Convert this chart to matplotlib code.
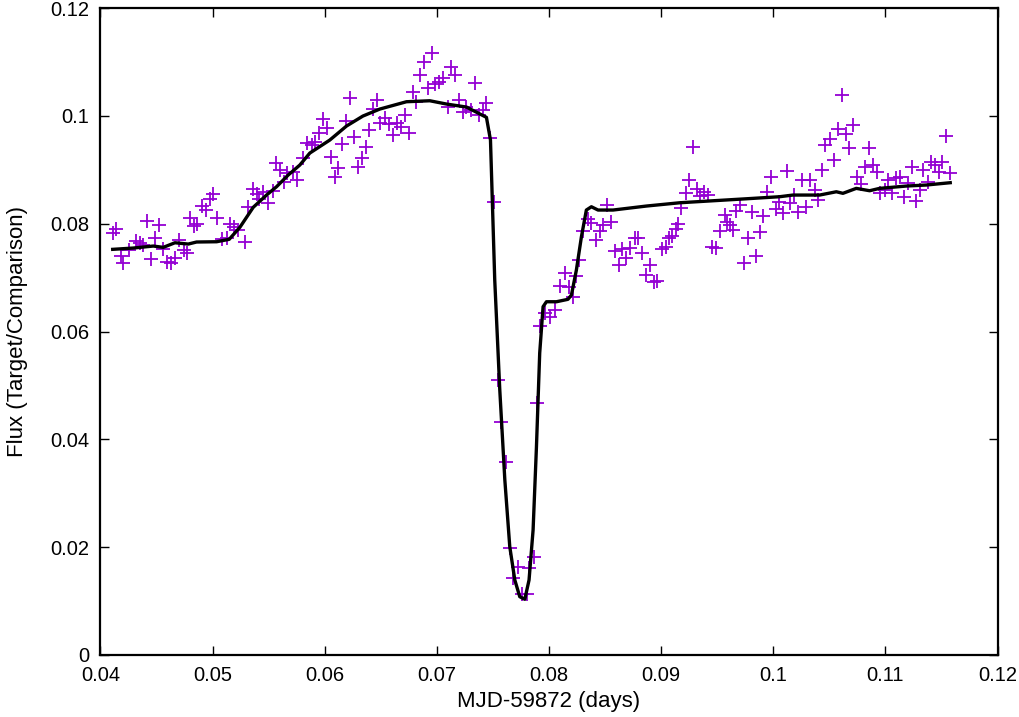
import matplotlib
matplotlib.use("Agg")
import matplotlib.pyplot as plt
from matplotlib.ticker import FuncFormatter, MultipleLocator

plt.rcParams["font.family"] = ["Liberation Sans", "DejaVu Sans"]

mjd = [
    0.04111, 0.04138, 0.04180, 0.04203, 0.04257, 0.04316, 0.04352, 0.04376,
    0.04417, 0.04447, 0.04486, 0.04521, 0.04554, 0.04590, 0.04626, 0.04661,
    0.04697, 0.04744, 0.04768, 0.04798, 0.04833, 0.04863, 0.04905, 0.04940,
    0.04976, 0.05005, 0.05041, 0.05083, 0.05125, 0.05154, 0.05190, 0.05228,
    0.05285, 0.05317, 0.05357, 0.05392, 0.05415, 0.05451, 0.05496, 0.05540,
    0.05564, 0.05600, 0.05636, 0.05665, 0.05713, 0.05754, 0.05802, 0.05838,
    0.05882, 0.05912, 0.05950, 0.05981, 0.06016, 0.06052, 0.06090, 0.06120,
    0.06153, 0.06194, 0.06224, 0.06259, 0.06298, 0.06328, 0.06366, 0.06396,
    0.06432, 0.06467, 0.06497, 0.06536, 0.06574, 0.06610, 0.06645, 0.06676,
    0.06714, 0.06752, 0.06783, 0.06812, 0.06848, 0.06883, 0.06925, 0.06955,
    0.06984, 0.07020, 0.07055, 0.07100, 0.07130, 0.07160, 0.07198, 0.07234,
    0.07264, 0.07300, 0.07338, 0.07376, 0.07412, 0.07442, 0.07478, 0.07512,
    0.07546, 0.07576, 0.07614, 0.07650, 0.07679, 0.07724, 0.07763, 0.07804,
    0.07822, 0.07864, 0.07893, 0.07924, 0.07962, 0.08006, 0.08051, 0.08096,
    0.08140, 0.08178, 0.08214, 0.08244, 0.08268, 0.08303, 0.08348, 0.08378,
    0.08416, 0.08452, 0.08482, 0.08517, 0.08556, 0.08588, 0.08624, 0.08654,
    0.08690, 0.08726, 0.08764, 0.08793, 0.08833, 0.08862, 0.08898, 0.08933,
    0.08963, 0.09011, 0.09040, 0.09070, 0.09100, 0.09129, 0.09150, 0.09180,
    0.09219, 0.09248, 0.09284, 0.09319, 0.09343, 0.09379, 0.09417, 0.09457,
    0.09486, 0.09522, 0.09566, 0.09587, 0.09617, 0.09640, 0.09664, 0.09700,
    0.09736, 0.09774, 0.09813, 0.09843, 0.09878, 0.09908, 0.09943, 0.09982,
    0.10021, 0.10050, 0.10086, 0.10122, 0.10152, 0.10181, 0.10220, 0.10259,
    0.10294, 0.10330, 0.10368, 0.10398, 0.10431, 0.10464, 0.10502, 0.10538,
    0.10576, 0.10609, 0.10645, 0.10674, 0.10710, 0.10745, 0.10785, 0.10814,
    0.10850, 0.10888, 0.10924, 0.10954, 0.10992, 0.11022, 0.11061, 0.11097,
    0.11132, 0.11162, 0.11200, 0.11233, 0.11269, 0.11304, 0.11334, 0.11378,
    0.11409, 0.11438, 0.11474, 0.11507, 0.11542, 0.11578,
]
flux = [
    0.07826, 0.07901, 0.07400, 0.07276, 0.07511, 0.07684, 0.07646, 0.07609,
    0.08054, 0.07339, 0.07728, 0.07975, 0.07524, 0.07294, 0.07264, 0.07357,
    0.07697, 0.07511, 0.07450, 0.08099, 0.07956, 0.07993, 0.08327, 0.08253,
    0.08451, 0.08550, 0.08099, 0.07710, 0.07728, 0.07993, 0.07943, 0.07882,
    0.07665, 0.08314, 0.08637, 0.08550, 0.08451, 0.08592, 0.08377, 0.08611,
    0.09130, 0.08995, 0.08778, 0.08934, 0.08963, 0.08809, 0.09212, 0.09490,
    0.09458, 0.09520, 0.09675, 0.09935, 0.09768, 0.09242, 0.08871, 0.09026,
    0.09471, 0.09909, 0.10325, 0.09612, 0.09045, 0.09212, 0.09427, 0.09737,
    0.10120, 0.10293, 0.09872, 0.09954, 0.09848, 0.09644, 0.09872, 0.09798,
    0.10015, 0.09687, 0.10447, 0.10262, 0.10757, 0.11003, 0.10510, 0.11159,
    0.10590, 0.10632, 0.10696, 0.10158, 0.10911, 0.10757, 0.10293, 0.10076,
    0.10169, 0.10108, 0.10603, 0.10015, 0.10108, 0.10232, 0.09583, 0.08407,
    0.05100, 0.04316, 0.03585, 0.01979, 0.01422, 0.01638, 0.01126, 0.01126,
    0.01608, 0.01812, 0.04668, 0.06102, 0.06337, 0.06274, 0.06398, 0.06844,
    0.07079, 0.06831, 0.06645, 0.07029, 0.07326, 0.07869, 0.08081, 0.08006,
    0.07706, 0.07873, 0.07969, 0.08346, 0.08030, 0.07493, 0.07233, 0.07524,
    0.07357, 0.07543, 0.07728, 0.07728, 0.07450, 0.07048, 0.07233, 0.06923,
    0.06942, 0.07524, 0.07561, 0.07728, 0.07771, 0.07895, 0.07993, 0.08284,
    0.08563, 0.08809, 0.09416, 0.08637, 0.08513, 0.08592, 0.08531, 0.07572,
    0.07543, 0.07869, 0.08160, 0.08036, 0.07975, 0.07882, 0.08240, 0.08346,
    0.07264, 0.07728, 0.08221, 0.07400, 0.07850, 0.08142, 0.08592, 0.08871,
    0.08266, 0.08407, 0.08192, 0.08982, 0.08388, 0.08531, 0.08221, 0.08809,
    0.08314, 0.08809, 0.08624, 0.08438, 0.08995, 0.09458, 0.09564, 0.09180,
    0.09750, 0.10386, 0.09662, 0.09397, 0.09829, 0.08871, 0.08735, 0.09045,
    0.09397, 0.09088, 0.08963, 0.08563, 0.08624, 0.08809, 0.08563, 0.08841,
    0.08871, 0.08500, 0.08748, 0.09045, 0.08426, 0.08624, 0.08995, 0.08778,
    0.09149, 0.09088, 0.08963, 0.09149, 0.09625, 0.08945,
]

# model light curve
model_mjd = [
    0.04109, 0.04292, 0.04471, 0.04560, 0.04664, 0.04783, 0.04857, 0.05036,
    0.05148, 0.05243, 0.05362, 0.05481, 0.05570, 0.05674, 0.05778, 0.05867,
    0.06045, 0.06194, 0.06340, 0.06491, 0.06729, 0.06937, 0.07086, 0.07264,
    0.07442, 0.07478, 0.07516, 0.07561, 0.07606, 0.07650, 0.07695, 0.07739,
    0.07784, 0.07822, 0.07858, 0.07888, 0.07917, 0.07947, 0.07977, 0.08066,
    0.08169, 0.08200, 0.08244, 0.08289, 0.08333, 0.08378, 0.08437, 0.08571,
    0.08868, 0.09165, 0.09462, 0.09760, 0.10056, 0.10175, 0.10413, 0.10562,
    0.10621, 0.10740, 0.10859, 0.10948, 0.11186, 0.11364, 0.11578,
]
model_flux = [
    0.07524, 0.07548, 0.07585, 0.07561, 0.07646, 0.07622, 0.07660, 0.07665,
    0.07710, 0.07932, 0.08303, 0.08531, 0.08685, 0.08902, 0.09088, 0.09310,
    0.09551, 0.09811, 0.09996, 0.10126, 0.10262, 0.10280, 0.10219, 0.10163,
    0.09972, 0.09551, 0.06955, 0.04915, 0.03246, 0.02009, 0.01391, 0.01081,
    0.01033, 0.01391, 0.02318, 0.03863, 0.05601, 0.06460, 0.06552, 0.06552,
    0.06597, 0.06677, 0.07140, 0.07758, 0.08253, 0.08314, 0.08253, 0.08253,
    0.08327, 0.08388, 0.08425, 0.08462, 0.08500, 0.08531, 0.08531, 0.08592,
    0.08563, 0.08655, 0.08611, 0.08655, 0.08698, 0.08717, 0.08760,
]

fig = plt.figure(figsize=(10.2, 7.17), dpi=100)
ax = fig.add_axes([0.0985, 0.0865, 0.8795, 0.9023])

ax.plot(mjd, flux, linestyle="none", marker="+", markersize=9.5,
        markeredgewidth=1.3, color="#9400d3")
ax.plot(model_mjd, model_flux, color="black", linewidth=2.4)

ax.set_xlim(0.04, 0.12)
ax.set_ylim(0, 0.12)
ax.xaxis.set_major_locator(MultipleLocator(0.01))
ax.yaxis.set_major_locator(MultipleLocator(0.02))
fmt = FuncFormatter(lambda v, pos: "%g" % round(v, 4))
ax.xaxis.set_major_formatter(fmt)
ax.yaxis.set_major_formatter(fmt)

ax.tick_params(direction="in", length=6.5, width=1, labelsize=14.5,
               top=True, right=True, pad=8)
for s in ax.spines.values():
    s.set_linewidth(1.6)

ax.set_xlabel("MJD-59872 (days)", fontsize=16, labelpad=4)
ax.set_ylabel("Flux (Target/Comparison)", fontsize=16, labelpad=16)

fig.savefig("out.png", dpi=100)
